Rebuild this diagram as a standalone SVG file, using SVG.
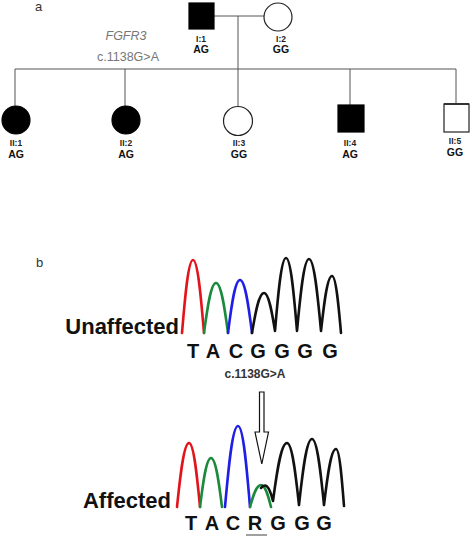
<svg xmlns="http://www.w3.org/2000/svg" width="474" height="539" viewBox="0 0 474 539">
<style>
.ln{stroke:#555;stroke-width:1;fill:none}
.aff{fill:#000;stroke:#000;stroke-width:1.2}
.un{fill:#fff;stroke:#222;stroke-width:1.2}
.id{font-family:"Liberation Sans",Arial,sans-serif;font-weight:bold;font-size:8.5px;fill:#222;text-anchor:middle}
.gt{font-family:"Liberation Sans",Arial,sans-serif;font-weight:bold;font-size:10.5px;fill:#111;text-anchor:middle}
.pl{font-family:"Liberation Sans",Arial,sans-serif;font-size:13px;fill:#333}
.gene{font-family:"Liberation Sans",Arial,sans-serif;font-size:12.5px;fill:#777;text-anchor:middle}
.big{font-family:"Liberation Sans",Arial,sans-serif;font-weight:bold;font-size:22px;fill:#111;text-anchor:end}
.base{font-family:"Liberation Sans",Arial,sans-serif;font-weight:bold;font-size:20px;fill:#111;text-anchor:middle}
.tr{fill:none;stroke-width:2.6;stroke-linejoin:round;stroke-linecap:round}
.r{stroke:#e3131b}.g{stroke:#1b8a3c}.b{stroke:#1e1ee6}.k{stroke:#111}
</style>
<text class="pl" x="35" y="11">a</text>
<text class="pl" x="36" y="267">b</text>
<g id="gene-label">
<text class="gene" x="126" y="40" font-style="italic">FGFR3</text>
<text class="gene" x="128" y="61">c.1138G&gt;A</text>
</g>
<g id="connectors">
<line class="ln" x1="214" y1="16" x2="264" y2="16" stroke="#333"/>
<line class="ln" x1="238" y1="16" x2="238" y2="107"/>
<line class="ln" x1="15" y1="69" x2="456" y2="69"/>
<line class="ln" x1="15" y1="69" x2="15" y2="106"/>
<line class="ln" x1="125" y1="69" x2="125" y2="106"/>
<line class="ln" x1="350" y1="69" x2="350" y2="105"/>
<line class="ln" x1="456" y1="69" x2="456" y2="104"/>
</g>
<g id="I1"><rect class="aff" x="189" y="3" width="25" height="26"/><text class="id" x="201" y="41.5">I:1</text><text class="gt" x="201" y="53">AG</text></g>
<g id="I2"><circle class="un" cx="278" cy="17" r="14"/><text class="id" x="281" y="41.5">I:2</text><text class="gt" x="281" y="53">GG</text></g>
<g id="II1"><circle class="aff" cx="16" cy="120" r="14"/><text class="id" x="16" y="146">II:1</text><text class="gt" x="16" y="158">AG</text></g>
<g id="II2"><circle class="aff" cx="126" cy="120" r="14"/><text class="id" x="126" y="146">II:2</text><text class="gt" x="126" y="158">AG</text></g>
<g id="II3"><circle class="un" cx="238" cy="121" r="14.5"/><text class="id" x="239" y="146">II:3</text><text class="gt" x="239" y="158">GG</text></g>
<g id="II4"><rect class="aff" x="338" y="105" width="26" height="27"/><text class="id" x="350" y="146">II:4</text><text class="gt" x="350" y="158">AG</text></g>
<g id="II5"><rect class="un" x="444" y="104" width="25" height="28" stroke="#666"/><line x1="444" y1="104" x2="469" y2="104" stroke="#222" stroke-width="1.6"/><text class="id" x="455" y="144">II:5</text><text class="gt" x="455" y="156">GG</text></g>
<g id="unaffected">
<text class="big" x="179" y="334">Unaffected</text>
<path class="tr r" d="M182,333 C184.75,300.2 188.05,260 193,260 C197.95,260 201.25,300.2 204,333"/>
<path class="tr g" d="M204,333 C207,310.5 210.6,283 216,283 C221.4,283 225,310.5 228,333"/>
<path class="tr b" d="M228,333 C231,309.2 234.6,280 240,280 C245.4,280 249,309.2 252,333"/>
<path class="tr k" d="M252,333 C255,315 258.6,293 264,293 C268.95,293 272.25,313.9 275,331 C277.75,298.2 281.05,258 286,258 C290.95,258 294.25,298.2 297,331 C300,298.6 303.6,259 309,259 C314.4,259 318,298.6 321,331 C323.75,306.2 327.05,276 332,276 C336.05,276 338.75,307.3 341,333"/>
<text class="base" x="193" y="358">T</text><text class="base" x="213" y="358">A</text><text class="base" x="236" y="358">C</text><text class="base" x="258" y="358">G</text><text class="base" x="282" y="358">G</text><text class="base" x="305" y="358">G</text><text class="base" x="330" y="358">G</text>
<text x="255" y="378" font-family="Liberation Sans, Arial, sans-serif" font-weight="bold" font-size="12" fill="#333" text-anchor="middle">c.1138G&gt;A</text>
</g>
<g id="arrow">
<polygon points="259.5,392 264,392 264,432 268.5,432 261.8,464 255,432 259.5,432" fill="#fff" stroke="#111" stroke-width="1.2"/>
</g>
<g id="affected">
<text class="big" x="171" y="508">Affected</text>
<path class="tr r" d="M177,507 C180,478.2 183.6,443 189,443 C193.95,443 197.25,478.2 200,507"/>
<path class="tr g" d="M200,507 C202.75,485 206.05,458 211,458 C215.95,458 219.25,485 222,507"/>
<path class="tr b" d="M225,507 C228.25,470.5 232.15,426 238,426 C243.4,426 247,470.5 250,507"/>
<path class="tr g" d="M250,507 C252.75,497 256.05,485 261,485 C265.5,485 268.5,497 271,507"/>
<path class="tr k" d="M261,488 C262.5,486 263,485.5 265,485.5 C268,485.5 271,493 273,501 C276.5,474.9 280.7,443 287,443 C292.4,443 296,477.1 299,505 C302.25,475.3 306.15,439 312,439 C317.4,439 321,475.3 324,505 C327,479.8 330.6,449 336,449 C339.6,449 342,480.4 344,506"/>
<text class="base" x="191" y="530">T</text><text class="base" x="212" y="530">A</text><text class="base" x="233" y="530">C</text><text class="base" x="255" y="530">R</text><text class="base" x="278" y="530">G</text><text class="base" x="302" y="530">G</text><text class="base" x="324" y="530">G</text>
<line x1="246" y1="535" x2="267" y2="535" stroke="#888" stroke-width="1.6"/>
</g>
</svg>
